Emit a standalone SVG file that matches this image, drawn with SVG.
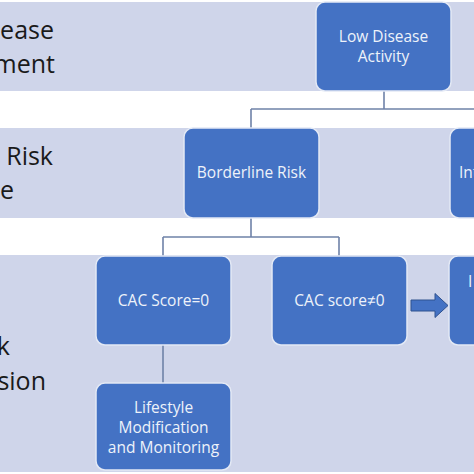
<svg xmlns="http://www.w3.org/2000/svg" width="474" height="474" viewBox="0 0 474 474">
<style>
.band{fill:#cfd5ea}
.box{fill:#4472c4;stroke:#e3e9f5;stroke-width:1.5}
.bt{font-family:"Open Sans","Liberation Sans",sans-serif;font-size:15.5px;fill:#eef2fa;text-anchor:middle}
.lt{font-family:"Open Sans","Liberation Sans",sans-serif;font-size:25px;fill:#1a1a1a;text-anchor:end}
.con{fill:none;stroke:#6f82a8;stroke-width:1.6}
</style>
<rect width="474" height="474" fill="#ffffff"/>
<g id="bands">
<rect class="band" x="0" y="2" width="474" height="89"/>
<rect class="band" x="0" y="128" width="474" height="90"/>
<rect class="band" x="0" y="255" width="474" height="217"/>
<text class="lt" x="54" y="39">ease</text>
<text class="lt" x="55" y="73">ment</text>
<text class="lt" x="53" y="165">Risk</text>
<text class="lt" x="14" y="199">e</text>
<text class="lt" x="10" y="355">k</text>
<text class="lt" x="46" y="390">sion</text>
</g>
<g id="connectors">
<path class="con" d="M384 91 V109 M251 109 H474 M251 109 V128"/>
<path class="con" d="M251 218 V237 M163 237 H339 M163 237 V256 M339 237 V256"/>
<path class="con" d="M163 345 V383"/>
<path d="M411 300 H435 V293.5 L448 305.5 L435 317.5 V311 H411 Z" fill="#4472c4" stroke="#2f528f" stroke-width="1"/>
</g>
<g id="low">
<rect class="box" x="316" y="2" width="135" height="89" rx="9"/>
<text class="bt" x="383.5" y="42">Low Disease</text>
<text class="bt" x="383.5" y="62">Activity</text>
</g>
<g id="borderline">
<rect class="box" x="184" y="128" width="135" height="90" rx="9"/>
<text class="bt" x="251.5" y="178">Borderline Risk</text>
</g>
<g id="intermediate">
<rect class="box" x="450" y="128" width="40" height="90" rx="9"/>
<text class="bt" x="459" y="178" style="text-anchor:start">Int</text>
</g>
<g id="cac0">
<rect class="box" x="96" y="256" width="135" height="89" rx="9"/>
<text class="bt" x="163.5" y="306">CAC Score=0</text>
</g>
<g id="cacnot0">
<rect class="box" x="272" y="256" width="135" height="89" rx="9"/>
<text class="bt" x="339.5" y="306">CAC score≠0</text>
</g>
<g id="right3">
<rect class="box" x="449" y="256" width="40" height="89" rx="9"/>
<text class="bt" x="468" y="287" style="text-anchor:start">I</text>
</g>
<g id="lifestyle">
<rect class="box" x="96" y="383" width="135" height="87" rx="9"/>
<text class="bt" x="163.5" y="413">Lifestyle</text>
<text class="bt" x="163.5" y="433">Modification</text>
<text class="bt" x="163.5" y="453">and Monitoring</text>
</g>
</svg>
